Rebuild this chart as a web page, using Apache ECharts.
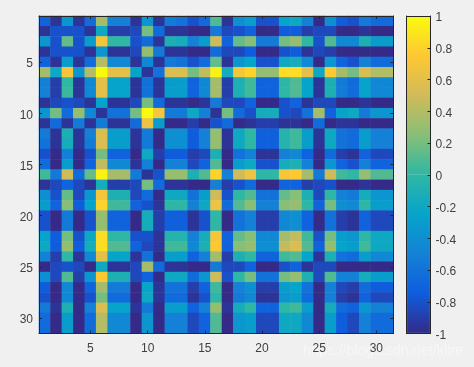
<!DOCTYPE html>
<html><head><meta charset="utf-8">
<style>html,body{margin:0;padding:0;background:#f0f0f0;overflow:hidden}#c{width:474px;height:367px;filter:blur(0.45px)}</style>
<script src="https://cdn.jsdelivr.net/npm/echarts@6/dist/echarts.min.js"></script>
</head><body><div id="c"></div>
<script>
const indices = Array.from({length:31},(_,i)=>String(i+1));
const matrixRows = [
[-.7,-.95,-.35,-.95,-.65,.35,-.5,-.5,-.95,-.35,-.95,-.55,-.6,-.8,-.65,.1,-.95,-.4,-.3,-.8,-.8,-.25,-.2,-.5,-1,-.4,-.75,-.8,-.55,-.65,-.65],
[-.95,-.8,-.8,-.8,-.95,-.2,-.9,-.9,-.85,.2,-.65,-.95,-.95,-1,-1,-.55,-.85,-.8,-.7,-1,-1,-.75,-.75,-.9,-.85,-.85,-1,-1,-.95,-1,-1],
[-.35,-.8,.15,-.8,-.3,.7,0,0,-.8,-.65,-.95,-.1,-.15,-.5,-.3,.5,-.7,.15,.25,-.55,-.55,.2,.3,0,-.8,.1,-.45,-.45,-.1,-.3,-.3],
[-.95,-.8,-.8,-.8,-.95,-.35,-.95,-.95,-.85,.3,-.55,-.95,-.95,-1,-1,-.65,-.85,-.85,-.75,-1,-1,-.8,-.75,-.95,-.85,-.9,-1,-1,-1,-1,-1],
[-.7,-.95,-.3,-.95,-.65,.4,-.45,-.45,-.95,-.45,-.95,-.55,-.6,-.8,-.65,.15,-.95,-.35,-.25,-.8,-.8,-.2,-.15,-.45,-1,-.35,-.7,-.8,-.5,-.65,-.65],
[.35,-.2,.7,-.35,.4,1,.6,.6,-.25,-.95,-.6,.55,.55,.2,.45,.95,-.15,.7,.8,.3,.3,.85,.85,.6,-.2,.75,.35,.2,.55,.4,.4],
[-.5,-.9,0,-.95,-.45,.6,-.25,-.25,-.95,-.6,-.95,-.3,-.3,-.7,-.45,.35,-.9,-.1,.05,-.7,-.7,0,.1,-.25,-.95,-.1,-.55,-.65,-.25,-.45,-.45],
[-.5,-.9,.03,-.95,-.45,.6,-.25,-.25,-.95,-.6,-.95,-.3,-.3,-.7,-.45,.35,-.9,-.1,.05,-.7,-.7,0,.1,-.25,-.95,-.1,-.55,-.65,-.25,-.45,-.45],
[-.95,-.85,-.8,-.85,-.95,-.25,-.95,-.95,-.85,.2,-.65,-.95,-.95,-1,-.95,-.55,-.85,-.85,-.7,-1,-1,-.8,-.7,-.95,-.85,-.85,-1,-1,-.95,-1,-1],
[-.35,.2,-.65,.3,-.45,-.95,-.6,-.6,.2,1,.7,-.55,-.55,-.2,-.5,-.95,.2,-.65,-.8,-.15,-.15,-.8,-.85,-.6,.35,-.7,-.25,-.2,-.55,-.35,-.35],
[-.95,-.65,-.95,-.55,-.95,-.55,-.95,-.95,-.65,.65,-.3,-1,-1,-.9,-1,-.8,-.65,-1,-.95,-.9,-.9,-.95,-.95,-1,-.65,-1,-.95,-.95,-1,-1,-1],
[-.55,-.95,-.1,-.95,-.5,.55,-.3,-.3,-.95,-.55,-1,-.4,-.4,-.75,-.5,.3,-.95,-.2,0,-.72,-.72,-.05,.05,-.3,-.95,-.2,-.6,-.65,-.3,-.5,-.5],
[-.6,-.95,-.15,-.95,-.55,.55,-.3,-.3,-.95,-.55,-1,-.4,-.4,-.75,-.5,.3,-.95,-.2,0,-.72,-.72,-.05,.05,-.3,-.95,-.2,-.6,-.65,-.3,-.5,-.5],
[-.8,-1,-.5,-1,-.8,.2,-.7,-.7,-1,-.2,-.9,-.75,-.75,-.9,-.85,-.1,-1,-.6,-.5,-.95,-.95,-.5,-.45,-.7,-1,-.65,-.9,-.95,-.7,-.85,-.85],
[-.65,-1,-.3,-1,-.7,.45,-.45,-.45,-.95,-.5,-1,-.5,-.5,-.85,-.7,.1,-1,-.3,-.2,-.8,-.8,-.15,-.1,-.5,-1,-.35,-.7,-.8,-.5,-.7,-.7],
[.05,-.55,.5,-.65,.15,.95,.35,.35,-.55,-.95,-.8,.3,.3,-.1,.1,.8,-.5,.5,.65,0,0,.7,.75,.35,-.55,.5,.05,0,.3,.1,.1],
[-.95,-.85,-.7,-.85,-.95,-.15,-.9,-.9,-.85,.2,-.65,-.95,-.95,-1,-1,-.5,-.9,-.8,-.65,-1,-1,-.7,-.7,-.9,-.85,-.8,-1,-1,-.95,-1,-1],
[-.4,-.8,.15,-.85,-.35,.7,-.1,-.1,-.85,-.65,-1,-.2,-.2,-.6,-.3,.5,-.8,0,.1,-.6,-.6,.15,.25,-.1,-.85,0,-.5,-.55,-.15,-.35,-.35],
[-.3,-.7,.25,-.75,-.25,.8,.05,.05,-.7,-.8,-.95,0,0,-.5,-.2,.65,-.65,.1,.25,-.5,-.5,.25,.3,0,-.7,.2,-.4,-.45,0,-.3,-.3],
[-.8,-1,-.55,-1,-.8,.3,-.7,-.7,-1,-.15,-.9,-.72,-.72,-.95,-.8,0,-1,-.6,-.5,-.9,-.9,-.45,-.4,-.7,-1,-.6,-.9,-.95,-.7,-.85,-.85],
[-.8,-1,-.55,-1,-.8,.3,-.7,-.7,-1,-.15,-.9,-.72,-.72,-.95,-.8,0,-1,-.6,-.5,-.9,-.9,-.45,-.4,-.7,-1,-.6,-.9,-.95,-.7,-.85,-.85],
[-.25,-.75,.2,-.8,-.2,.85,0,0,-.8,-.8,-.95,-.05,-.05,-.5,-.15,.7,-.7,.15,.25,-.45,-.45,.35,.45,.05,-.8,.2,-.3,-.35,0,-.2,-.2],
[-.2,-.75,.3,-.75,-.15,.85,.1,.1,-.7,-.85,-.95,.05,.05,-.45,-.1,.75,-.7,.25,.3,-.4,-.4,.45,.55,.1,-.7,.3,-.25,-.3,.05,-.2,-.2],
[-.5,-.9,0,-.95,-.45,.6,-.25,-.25,-.95,-.6,-1,-.3,-.3,-.7,-.5,.35,-.9,-.1,0,-.7,-.7,.05,.1,-.25,-.95,-.1,-.6,-.65,-.3,-.45,-.45],
[-1,-.85,-.8,-.85,-1,-.2,-.95,-.95,-.85,.35,-.65,-.95,-.95,-1,-1,-.55,-.85,-.85,-.7,-1,-1,-.8,-.7,-.95,-.85,-.85,-1,-1,-1,-1,-1],
[-.4,-.85,.1,-.9,-.35,.75,-.1,-.1,-.85,-.7,-1,-.2,-.2,-.65,-.35,.5,-.8,0,.2,-.6,-.6,.2,.3,-.1,-.85,.1,-.5,-.5,-.15,-.3,-.3],
[-.75,-1,-.45,-1,-.7,.35,-.55,-.55,-1,-.25,-.95,-.6,-.6,-.9,-.7,.05,-1,-.5,-.4,-.9,-.9,-.3,-.25,-.6,-1,-.5,-.85,-.9,-.65,-.75,-.75],
[-.8,-1,-.45,-1,-.8,.2,-.65,-.65,-1,-.2,-.95,-.65,-.65,-.95,-.8,0,-1,-.55,-.45,-.95,-.95,-.35,-.3,-.65,-1,-.5,-.9,-.95,-.7,-.85,-.85],
[-.55,-.95,-.1,-1,-.5,.55,-.25,-.25,-.95,-.55,-1,-.3,-.3,-.7,-.5,.3,-.95,-.15,0,-.7,-.7,0,.05,-.3,-1,-.15,-.65,-.7,-.35,-.5,-.5],
[-.65,-1,-.3,-1,-.65,.4,-.45,-.45,-1,-.35,-1,-.5,-.5,-.85,-.7,.1,-1,-.35,-.3,-.85,-.85,-.2,-.2,-.45,-1,-.3,-.75,-.85,-.5,-.65,-.65],
[-.65,-1,-.3,-1,-.65,.4,-.45,-.45,-1,-.35,-1,-.5,-.5,-.85,-.7,.1,-1,-.35,-.3,-.85,-.85,-.2,-.2,-.45,-1,-.3,-.75,-.85,-.5,-.65,-.65]
];
const parulaStops = ['#352a87','#0f5cdd','#1481d6','#06a4ca','#2eb7a4','#87bf77','#d1bb59','#fec832','#f9fb0e'];
const colorbarTop = [1];
const colorbarBottom = [-1];
const labelColor='#404040', lineColor='#262626';
const cells=[];
matrixRows.forEach((r,y)=>r.forEach((v,x)=>cells.push([x,y,v])));
const every5=(i)=> (i+1)%5===0;
const gradient=(stops)=>new echarts.graphic.LinearGradient(0,1,0,0,stops.map((c,i)=>({offset:i/(stops.length-1),color:c})));
const catAxis=(extra)=>{
  const base={type:'category',data:indices,gridIndex:0,z:5,
    axisLine:{show:true,onZero:false,lineStyle:{color:lineColor,width:1}},
    axisTick:{show:true,inside:true,length:3,alignWithLabel:true,interval:every5,lineStyle:{color:lineColor}},
    axisLabel:{show:true,interval:every5,color:labelColor,fontFamily:'Liberation Sans',fontSize:12,margin:9},
    splitLine:{show:false}};
  return Object.assign(base,extra);
};
const barAxisLine={show:true,onZero:false,lineStyle:{color:lineColor}};
const chart=echarts.init(document.getElementById('c'),null,{renderer:'canvas'});
chart.setOption({
  animation:false,
  backgroundColor:'#f0f0f0',
  grid:[
    {left:39,top:16,width:354.5,height:317.5,containLabel:false},
    {left:406.5,top:16,width:24,height:317.5,containLabel:false}
  ],
  xAxis:[
    catAxis({position:'bottom'}),
    catAxis({position:'top',axisLabel:{show:false}}),
    {type:'category',gridIndex:1,position:'bottom',z:5,data:[''],axisLine:barAxisLine,axisTick:{show:false},axisLabel:{show:false}},
    {type:'category',gridIndex:1,position:'top',z:5,data:[''],axisLine:barAxisLine,axisTick:{show:false},axisLabel:{show:false}}
  ],
  yAxis:[
    catAxis({position:'left',inverse:true,axisLabel:{show:true,interval:every5,color:labelColor,fontFamily:'Liberation Sans',fontSize:12,margin:6,verticalAlign:'top',lineHeight:4}}),
    catAxis({position:'right',inverse:true,axisLabel:{show:false}}),
    {type:'value',gridIndex:1,position:'left',z:5,min:-1,max:1,interval:.2,axisLine:barAxisLine,axisTick:{show:false},axisLabel:{show:false},splitLine:{show:false}},
    {type:'value',gridIndex:1,position:'right',z:5,min:-1,max:1,interval:.2,
      axisLine:barAxisLine,
      axisTick:{show:true,inside:true,length:3,lineStyle:{color:lineColor}},
      axisLabel:{color:labelColor,fontFamily:'Liberation Sans',fontSize:12,margin:5,verticalAlign:'top',lineHeight:4,
        formatter:(v)=>String(+v.toFixed(1))},
      splitLine:{show:false}}
  ],
  visualMap:{show:false,min:-1,max:1,seriesIndex:[0],dimension:2,inRange:{color:parulaStops}},
  series:[
    {type:'heatmap',xAxisIndex:0,yAxisIndex:0,z:1,data:cells,progressive:0,emphasis:{disabled:true}},
    {type:'bar',xAxisIndex:2,yAxisIndex:2,z:1,data:colorbarBottom,barWidth:'100%',barGap:'-100%',silent:true,
      itemStyle:{color:new echarts.graphic.LinearGradient(0,0,0,1,parulaStops.slice(0,5).reverse().map((c,i)=>({offset:i/4,color:c}))),borderColor:parulaStops[4],borderWidth:0.6}},
    {type:'bar',xAxisIndex:2,yAxisIndex:2,z:1,data:colorbarTop,barWidth:'100%',barGap:'-100%',silent:true,
      itemStyle:{color:gradient(parulaStops.slice(4))}}
  ],
  graphic:[{type:'text',left:303,top:343,silent:true,
    style:{text:'https://blog.csdn.net/klire',fill:'rgba(255,255,255,0.45)',font:'14.5px "Liberation Sans"'}}]
});
</script></body></html>
